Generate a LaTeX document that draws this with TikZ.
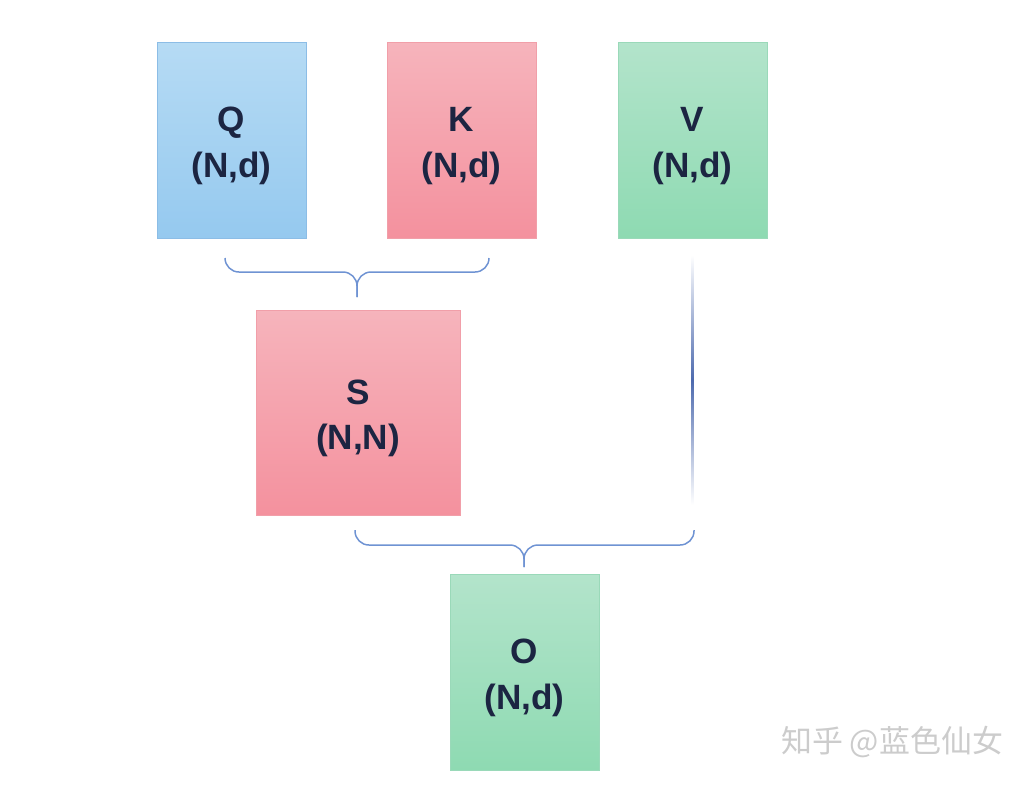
\documentclass[tikz,border=0pt]{standalone}
\usepackage{fontspec}
\setmainfont{Liberation Sans}
\newfontfamily\cjk{Noto Sans CJK SC}
\usepackage{xcolor}
\usetikzlibrary{calc}

\definecolor{ink}{HTML}{1C2542}
\definecolor{blueT}{HTML}{B6DBF4}
\definecolor{blueB}{HTML}{95C9EF}
\definecolor{blueD}{HTML}{8CBDE6}
\definecolor{redT}{HTML}{F6B4BC}
\definecolor{redB}{HTML}{F4919E}
\definecolor{redD}{HTML}{F19FA9}
\definecolor{greenT}{HTML}{B3E4CB}
\definecolor{greenB}{HTML}{8EDAB2}
\definecolor{greenD}{HTML}{9AD9B9}
\definecolor{brace}{HTML}{6F93D3}
\definecolor{vline}{HTML}{4D6AAE}

% pushes the two lines of a box a little down
\newcommand{\lift}{\rule{0pt}{20.5pt}}

\begin{document}
\begin{tikzpicture}[
  mat/.style={inner sep=0pt,outer sep=0pt,minimum width=2.98cm,minimum height=3.92cm,
    align=center,text=ink,font=\fontsize{20}{26}\selectfont\bfseries,line width=0.45pt},
  qmat/.style={mat,top color=blueT,bottom color=blueB,draw=blueD},
  kmat/.style={mat,top color=redT,bottom color=redB,draw=redD},
  vmat/.style={mat,top color=greenT,bottom color=greenB,draw=greenD},
  brc/.style={draw=brace,line width=0.85pt,rounded corners=0.28cm}]
\useasboundingbox (0,0) rectangle (20.56,-15.72);

\node[qmat] (Q) at (4.63,-2.8)  {\lift Q\\(N,d)};
\node[kmat] (K) at (9.23,-2.8)  {\lift K\\(N,d)};
\node[vmat] (V) at (13.85,-2.8) {\lift V\\(N,d)};
\node[kmat,minimum width=4.08cm,minimum height=4.1cm] (S) at (7.16,-8.25) {\lift S\\(N,N)};
\node[vmat] (O) at (10.49,-13.44) {\lift O\\(N,d)};

% brace under Q and K
\coordinate (b1l) at (4.5,-5.16);
\coordinate (b1r) at (9.78,-5.16);
\coordinate (b1t) at (7.14,-5.94);
\draw[brc] (b1l) |- ($(b1t)+(0,0.5)$) -- (b1t);
\draw[brc] (b1r) |- ($(b1t)+(0,0.5)$) -- (b1t);

% line down from V
\coordinate (vtop) at (13.85,-5.1);
\coordinate (vbot) at (13.85,-10.1);
\shade[top color=white,bottom color=white,middle color=vline]
  ($(vtop)+(-0.018,0)$) rectangle ($(vbot)+(0.018,0)$);

% brace under S and V
\coordinate (b2l) at (7.1,-10.6);
\coordinate (b2r) at (13.88,-10.6);
\coordinate (b2t) at (10.48,-11.34);
\draw[brc] (b2l) |- ($(b2t)+(0,0.44)$) -- (b2t);
\draw[brc] (b2r) |- ($(b2t)+(0,0.44)$) -- (b2t);

\node[anchor=west,text=black!20,font=\cjk\fontsize{17.6}{20}\selectfont] (wm) at (15.5,-14.84) {知乎 @蓝色仙女};
\end{tikzpicture}
\end{document}
